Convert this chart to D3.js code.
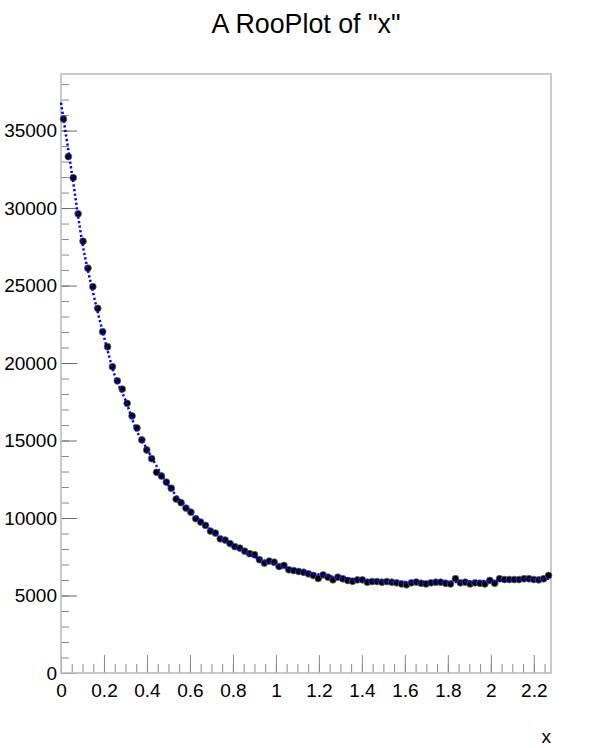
<!DOCTYPE html>
<html>
<head>
<meta charset="utf-8">
<script src="https://cdn.jsdelivr.net/npm/d3@7"></script>
<style>
  body { margin: 0; background: #fff; }
  svg text { font-family: "Liberation Sans", Arial, sans-serif; fill: #000; }
</style>
</head>
<body>
<div id="chart"></div>
<script>
"use strict";

// histogram of "x": 100 bins over [0, 2.28]
const xRange = [0, 2.28];
const nBins = 100;
const counts = [
    35750, 33320, 31960, 29630, 27860, 26120, 24930, 23530, 22020, 21050,
    19760, 18850, 18320, 17400, 16590, 15810, 15040, 14390, 13830, 12950,
    12710, 12320, 11920, 11220, 10990, 10640, 10380, 9960, 9740, 9520,
    9160, 9030, 8660, 8580, 8350, 8150, 8060, 7860, 7700, 7630,
    7310, 7090, 7220, 7150, 6870, 6940, 6660, 6610, 6550, 6500,
    6400, 6290, 6100, 6330, 6180, 6010, 6180, 6080, 5970, 5920,
    6010, 6010, 5860, 5900, 5900, 5860, 5900, 5860, 5820, 5750,
    5690, 5820, 5870, 5790, 5750, 5820, 5860, 5860, 5790, 5750,
    6080, 5820, 5860, 5750, 5820, 5790, 5750, 5970, 5790, 6080,
    6030, 6030, 6030, 6030, 6080, 6080, 6030, 6010, 6080, 6290
];

// fitted pdf
const curveX = [0, 0.05, 0.1, 0.15, 0.2, 0.25, 0.3, 0.35, 0.4, 0.5, 0.6, 0.7, 0.8,
                0.9, 1.0, 1.1, 1.2, 1.3, 1.4, 1.5, 1.6, 1.7, 1.8, 1.9, 2.0, 2.1, 2.2, 2.28];
const curveY = [36800, 32300, 27700, 24500, 21700, 19200, 17600, 15700, 14450, 12100, 10450, 9200, 8200,
                7500, 7000, 6600, 6350, 6150, 6000, 5920, 5870, 5850, 5870, 5900, 5950, 6000, 6050, 6100];

const yMax = 38650;
const title = "A RooPlot of \"x\"";
const xTitle = "x";

const frame = { left: 61, right: 551, top: 74, bottom: 673 };

const svg = d3.select("#chart").append("svg")
              .attr("width", 612)
              .attr("height", 748);

const xScale = d3.scaleLinear().domain(xRange).range([frame.left, frame.right]);
const yScale = d3.scaleLinear().domain([0, yMax]).range([frame.bottom, frame.top]);

const binW = (xRange[1] - xRange[0]) / nBins;
const bins = counts.map((n, i) => ({
    lo: xRange[0] + i * binW,
    mid: xRange[0] + (i + 0.5) * binW,
    hi: xRange[0] + (i + 1) * binW,
    n: n,
    err: Math.sqrt(n)
}));

// title
svg.append("text")
   .attr("x", 306)
   .attr("y", 33)
   .attr("text-anchor", "middle")
   .style("font-size", "26.8px")
   .text(title);

// minor ticks
const xMinor = d3.range(0, 2.2801, 0.05);
const yMinor = d3.range(0, yMax, 1000);

svg.append("g")
   .attr("transform", `translate(0, ${frame.bottom})`)
   .call(d3.axisBottom(xScale).tickValues(xMinor).tickSize(-9).tickFormat(""))
   .call(g => g.select(".domain").remove())
   .call(g => g.selectAll("line").attr("stroke", "#8a8a8a"));

svg.append("g")
   .attr("transform", `translate(${frame.left}, 0)`)
   .call(d3.axisLeft(yScale).tickValues(yMinor).tickSize(-8).tickFormat(""))
   .call(g => g.select(".domain").remove())
   .call(g => g.selectAll("line").attr("stroke", "#8a8a8a"));

// major ticks + labels
const xMajor = d3.range(0, 2.2801, 0.2);
const yMajor = d3.range(0, yMax, 5000);

const xAxis = svg.append("g")
                 .attr("transform", `translate(0, ${frame.bottom})`)
                 .call(d3.axisBottom(xScale)
                         .tickValues(xMajor)
                         .tickSize(-18)
                         .tickPadding(11)
                         .tickFormat(d => d3.format("~g")(+d.toFixed(1))));
xAxis.select(".domain").remove();
xAxis.selectAll("line").attr("stroke", "#8a8a8a");
xAxis.selectAll("text").style("font-size", "19px").attr("fill", "#000");

const yAxis = svg.append("g")
                 .attr("transform", `translate(${frame.left}, 0)`)
                 .call(d3.axisLeft(yScale)
                         .tickValues(yMajor)
                         .tickSize(-16)
                         .tickPadding(4)
                         .tickFormat(d3.format("d")));
yAxis.select(".domain").remove();
yAxis.selectAll("line").attr("stroke", "#6a6a6a");
yAxis.selectAll("text").style("font-size", "19px").attr("fill", "#000");

// frame
svg.append("rect")
   .attr("x", frame.left)
   .attr("y", frame.top)
   .attr("width", frame.right - frame.left)
   .attr("height", frame.bottom - frame.top)
   .attr("fill", "none")
   .attr("stroke", "#bdbdbd")
   .attr("stroke-width", 1.6);

// axis title
svg.append("text")
   .attr("x", frame.right)
   .attr("y", 743)
   .attr("text-anchor", "end")
   .style("font-size", "19px")
   .text(xTitle);

// data points with error bars
const pts = svg.append("g").attr("class", "data");
pts.selectAll("line.xerr")
   .data(bins)
   .join("line")
   .attr("class", "xerr")
   .attr("x1", d => xScale(d.lo))
   .attr("x2", d => xScale(d.hi))
   .attr("y1", d => yScale(d.n))
   .attr("y2", d => yScale(d.n))
   .attr("stroke", "#000")
   .attr("stroke-width", 1.2);
pts.selectAll("line.yerr")
   .data(bins)
   .join("line")
   .attr("class", "yerr")
   .attr("x1", d => xScale(d.mid))
   .attr("x2", d => xScale(d.mid))
   .attr("y1", d => yScale(d.n - d.err))
   .attr("y2", d => yScale(d.n + d.err))
   .attr("stroke", "#000")
   .attr("stroke-width", 1.2);
pts.selectAll("circle")
   .data(bins)
   .join("circle")
   .attr("cx", d => xScale(d.mid))
   .attr("cy", d => yScale(d.n))
   .attr("r", 3.4)
   .attr("fill", "#000")
   .attr("stroke", "#666")
   .attr("stroke-width", 0.8);

// fitted curve (dotted blue)
const line = d3.line()
               .x(d => xScale(d[0]))
               .y(d => yScale(d[1]))
               .curve(d3.curveMonotoneX);
svg.append("path")
   .datum(d3.zip(curveX, curveY))
   .attr("d", line)
   .attr("fill", "none")
   .attr("stroke", "#0000ff")
   .attr("stroke-width", 2.5)
   .attr("stroke-dasharray", "2.2,2.4");
</script>
</body>
</html>
